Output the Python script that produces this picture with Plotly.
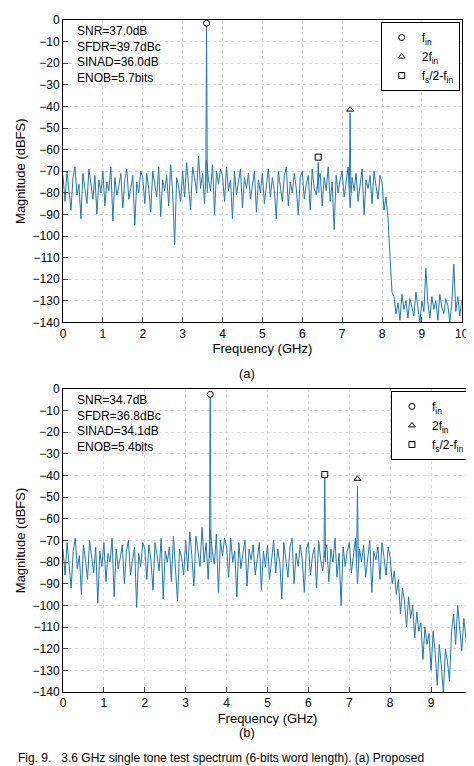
import numpy as np
import plotly.graph_objects as go

# ---------- data ----------
step = 0.05
noise_a = [
 -72,-84,-70,-79,-88,-73,-68,-81,-76,-92,-71,-78,-85,-69,-77,-83,-72,-90,-74,-80,
 -70,-86,-75,-79,-68,-93,-73,-81,-77,-71,-87,-74,-69,-83,-78,-72,-95,-75,-80,-70,
 -73,-85,-71,-78,-89,-70,-76,-82,-68,-91,-74,-79,-72,-86,-67,-80,-104,-73,-77,-84,
 -70,-82,-66,-76,-88,-68,-73,-80,-63,-78,-71,-85,-65,-74,-79,-67,-90,-70,-76,-69,
 -72,-84,-68,-79,-74,-92,-70,-81,-75,-69,-87,-73,-78,-71,-83,-76,-70,-89,-74,-80,
 -71,-85,-76,-69,-82,-73,-79,-92,-70,-77,-84,-72,-68,-86,-75,-80,-71,-78,-90,-73,
 -70,-83,-76,-72,-88,-69,-78,-81,-74,-71,-86,-73,-79,-68,-84,-75,-97,-72,-80,-74,
 -70,-82,-75,-68,-87,-73,-79,-71,-84,-76,-69,-90,-74,-78,-72,-85,-70,-77,-83,-72,
 -75,-88,-82,-92,-108,-126,
 -128,-136,-131,-139,-127,-134,-130,-138,-129,-133,-137,-126,-132,-140,-130,-135,-115,-131,
 -138,-128,-134,-130,-139,-127,-133,-136,-129,-132,-140,-131,-113,-135,-128,-137,-130]
noise_b = [
 -74,-86,-71,-80,-92,-75,-69,-83,-77,-95,-72,-79,-88,-70,-78,-85,-73,-99,-75,-82,
 -71,-89,-76,-80,-69,-96,-74,-83,-78,-72,-90,-75,-70,-86,-79,-73,-101,-76,-82,-71,
 -74,-88,-72,-79,-93,-71,-77,-84,-69,-97,-75,-80,-73,-89,-68,-82,-98,-74,-78,-86,
 -70,-84,-66,-77,-91,-68,-74,-82,-64,-80,-71,-88,-65,-75,-81,-67,-94,-70,-77,-69,
 -73,-87,-69,-80,-75,-96,-71,-83,-76,-70,-91,-74,-79,-72,-86,-77,-71,-93,-75,-82,
 -72,-88,-77,-70,-85,-74,-80,-97,-71,-78,-87,-73,-69,-90,-76,-82,-72,-79,-94,-74,
 -71,-86,-77,-73,-92,-70,-79,-84,-75,-72,-89,-74,-80,-69,-87,-76,-100,-73,-82,-75,
 -71,-85,-76,-69,-90,-74,-80,-72,-87,-77,-70,-94,-75,-79,-73,-88,-71,-78,-86,-73,
 -78,-90,-84,-95,-88,-104,-92,-98,-110,-96,-106,-100,-115,-103,-112,-108,-125,-110,-118,-113,
 -130,-112,-122,-137,-118,-128,-140,-120,-126,-135,-112,-104,-118,-100,-110,-121,-106,-116,
 -124,-109,-118,-128,-112,-122,-117,-127,-110,-119,-105,-123,-114,-98,-120,-111,-116]
spike_x = [3.6, 7.2, 6.4]
spike_a = [-3, -43, -66]
spike_b = [-4, -45, -41]
marker_a = [-3, -43, -65]
marker_b = [-4, -43, -41]
labels = ["f<sub>in</sub>", "2f<sub>in</sub>", "f<sub>s</sub>/2-f<sub>in</sub>"]
symbols = ["circle-open", "triangle-up-open", "square-open"]
text_a = ["SNR=37.0dB", "SFDR=39.7dBc", "SINAD=36.0dB", "ENOB=5.7bits"]
text_b = ["SNR=34.7dB", "SFDR=36.8dBc", "SINAD=34.1dB", "ENOB=5.4bits"]

BLUE = "#1f77b4"
fig = go.Figure()
for i, (noise, spikes, marks, ax, lg) in enumerate([
        (noise_a, spike_a, marker_a, "", "legend"),
        (noise_b, spike_b, marker_b, "2", "legend2")]):
    x = np.arange(len(noise)) * step
    fig.add_trace(go.Scatter(x=x, y=noise, mode="lines", line=dict(color=BLUE, width=1),
                             showlegend=False, xaxis="x"+ax, yaxis="y"+ax))
    sx, sy = [], []
    for xs, ys in zip(spike_x, spikes):
        sx += [xs - 0.02, xs, xs + 0.02, None]
        sy += [-78, ys, -80, None]
    fig.add_trace(go.Scatter(x=sx, y=sy, mode="lines", line=dict(color=BLUE, width=1),
                             showlegend=False, xaxis="x"+ax, yaxis="y"+ax))
    for xs, ym, lab, sym in zip(spike_x, marks, labels, symbols):
        fig.add_trace(go.Scatter(x=[xs], y=[ym + 1.5], mode="markers", name=lab,
                                 marker=dict(symbol=sym, size=6, color="black", line=dict(width=1)),
                                 xaxis="x"+ax, yaxis="y"+ax, legend=lg))

ax_common = dict(range=[0, 10], dtick=1, showgrid=True, gridcolor="#d9d9d9", griddash="dot",
                 showline=True, mirror=True, linecolor="black", ticks="inside",
                 zeroline=False, tickfont=dict(size=12, color="black"), automargin=False)
ay_common = dict(range=[-140, 0], dtick=10, showgrid=True, gridcolor="#d9d9d9", griddash="dot",
                 showline=True, mirror=True, linecolor="black", ticks="inside",
                 zeroline=False, tickfont=dict(size=12, color="black"), automargin=False,
                 ticklabeloverflow="allow",
                 title=dict(text="Magnitude (dBFS)", font=dict(size=13), standoff=4))
leg = dict(bgcolor="white", bordercolor="black", borderwidth=1, font=dict(size=12),
           xanchor="right", yanchor="top", tracegroupgap=0)
fig.update_layout(
    width=474, height=766, paper_bgcolor="white", plot_bgcolor="white",
    font=dict(family="Liberation Sans, Arial", color="black"),
    margin=dict(l=55, r=10, t=12, b=82),
    xaxis=dict(domain=[0, 0.975], anchor="y", **ax_common,
               title=dict(text="Frequency (GHz)", font=dict(size=13), standoff=4)),
    yaxis=dict(domain=[0.55, 1.0], anchor="x", **ay_common),
    xaxis2=dict(domain=[0, 1.0], anchor="y2", **ax_common,
                title=dict(text="Frequency (GHz)", font=dict(size=13), standoff=4)),
    yaxis2=dict(domain=[0.0, 0.451], anchor="x2", **ay_common),
    legend=dict(x=0.97, y=0.997, **leg),
    legend2=dict(x=0.995, y=0.448, **leg),
)
fig.add_annotation(x=0.3, y=-1, xref="x", yref="y", xanchor="left", yanchor="top", align="left",
                   text="<br>".join(text_a), showarrow=False, font=dict(size=12))
fig.add_annotation(x=0.3, y=-1, xref="x2", yref="y2", xanchor="left", yanchor="top", align="left",
                   text="<br>".join(text_b), showarrow=False, font=dict(size=12))
fig.add_annotation(x=0.45, y=0.474, xref="paper", yref="paper", text="(a)", showarrow=False, font=dict(size=13))
fig.add_annotation(x=0.45, y=-0.075, xref="paper", yref="paper", text="(b)", showarrow=False, font=dict(size=13))
fig.add_annotation(x=-0.116, y=-0.112, xref="paper", yref="paper", xanchor="left",
                   text="Fig. 9.   3.6 GHz single tone test spectrum (6-bits word length). (a) Proposed",
                   showarrow=False, font=dict(size=12))
fig.write_html("out.html")
